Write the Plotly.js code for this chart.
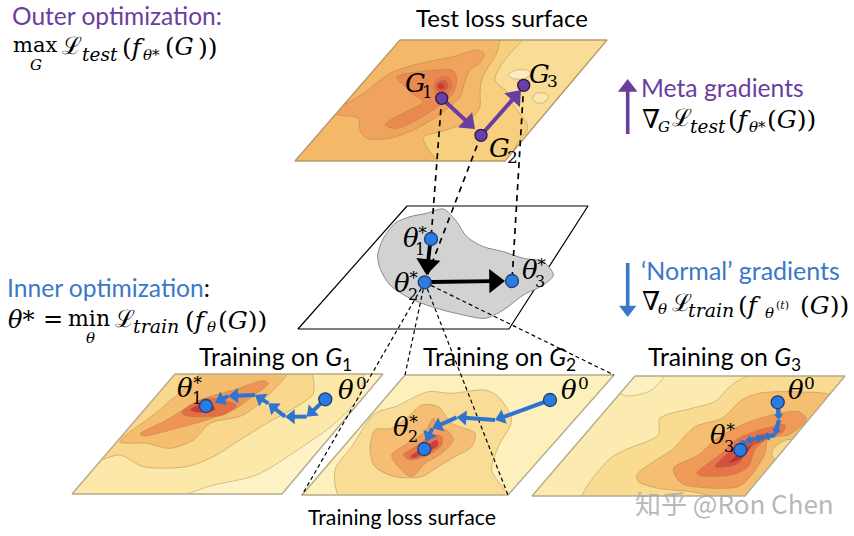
<!DOCTYPE html>
<html><head><meta charset="utf-8">
<script src="https://cdn.plot.ly/plotly-3.0.1.min.js"></script>
<style>html,body{margin:0;padding:0;background:#fff}#c{width:854px;height:536px}</style>
</head><body><div id="c"></div>
<script>
// ---- surface corners (tl, tr, br, bl), chart units
const topFrame   = [[400,40],[607,40],[505,161],[295,161]];
const midFrame   = [[407,206],[588,206],[509,329],[298,329]];
const leftFrame  = [[175,374],[383,374],[282,494],[72,494]];
const centFrame  = [[405,375],[614,375],[508,495],[302,495]];
const rightFrame = [[635,376],[845,376],[745,496],[532,496]];

// ---- contour outlines, read in 3x crop units per surface
const topA = [[745,20],[700,60],[660,110],[645,150],[680,185],[700,225],[740,280],[742,300],[715,335],[680,405],[1000,18]];
const topC = [[340,20],[655,20],[650,70],[625,110],[605,150],[600,190],[600,230],[570,270],[500,300],[430,322],[440,350],[475,410],[20,410]];
const topD = [[160,250],[250,190],[330,130],[420,100],[520,80],[590,60],[612,70],[600,100],[570,120],[550,170],[540,200],[470,260],[400,300],[330,325],[260,325],[240,300],[235,265]];
const topE = [[315,285],[340,265],[400,235],[430,215],[395,190],[370,165],[350,140],[420,125],[520,122],[530,150],[520,190],[480,225],[420,265],[350,295]];
const topF = [[460,170],[470,148],[490,138],[510,145],[515,170],[500,198],[475,200]];
const topG = [[468,168],[480,152],[497,152],[505,168],[492,185],[475,185]];
const topH = [[472,168],[482,160],[492,162],[492,175],[480,178]];
const topPale1 = [[685,133],[710,120],[745,122],[752,132],[735,145],[700,146]];
const topPale2 = [[758,205],[770,190],[795,190],[806,203],[790,218],[768,218]];

const mapBlob = [[460,42],[500,80],[530,125],[580,155],[640,170],[700,190],[760,200],[790,240],[760,270],[700,300],[640,345],[585,370],[520,360],[440,340],[360,310],[300,270],[270,220],[263,180],[280,130],[315,85],[360,65],[410,55]];

const leftL1 = [[215,25],[785,25],[790,60],[775,115],[705,190],[600,265],[470,345],[330,378],[200,420],[-110,420]];
const leftL2 = [[215,25],[625,25],[640,100],[590,140],[500,190],[420,240],[340,290],[260,320],[130,320],[60,285],[-10,300]];
const leftL3 = [[60,245],[160,165],[260,80],[320,30],[565,30],[515,95],[430,165],[330,190],[280,240],[210,265],[140,250]];
const leftL4 = [[120,222],[200,180],[300,120],[400,90],[490,62],[505,70],[470,100],[400,150],[320,180],[230,205],[130,228]];
const leftL5 = [[245,158],[270,135],[320,115],[370,120],[410,135],[370,165],[300,170],[260,168]];
const leftL6 = [[270,150],[300,132],[340,135],[345,150],[300,158]];

const centL1 = [[140,420],[120,330],[170,260],[240,160],[300,140],[400,95],[470,100],[570,90],[610,110],[650,180],[610,260],[590,330],[640,420]];
const centL2 = [[225,270],[240,210],[290,205],[340,170],[380,135],[430,140],[470,190],[540,220],[530,260],[480,290],[430,320],[380,350],[300,350],[240,320]];
const centL3 = [[290,285],[330,255],[390,215],[415,175],[430,200],[460,215],[475,240],[440,280],[390,310],[350,350],[310,320]];
const centL4 = [[325,285],[370,255],[410,225],[440,230],[440,255],[400,285],[345,300]];
const centL5 = [[345,290],[390,260],[425,240],[430,255],[390,280],[355,295]];

const rightPale = [[300,107],[380,90],[425,30],[300,30],[260,70]];
const rightL1 = [[170,425],[250,300],[300,270],[400,225],[405,175],[500,145],[570,125],[620,75],[700,35],[990,35],[990,60],[680,425]];
const rightL2 = [[335,345],[370,315],[440,270],[510,200],[590,175],[650,120],[700,100],[800,95],[930,110],[880,180],[800,300],[690,425],[500,395],[400,385],[340,365]];
const rightNotch = [[740,285],[750,260],[792,238],[815,255],[770,310]];
const rightL3 = [[445,325],[520,285],[570,240],[650,195],[720,170],[820,155],[845,178],[790,225],[730,235],[720,280],[680,345],[640,380],[470,370]];
const rightL4 = [[515,340],[590,280],[640,235],[720,205],[780,195],[775,215],[720,240],[690,270],[670,320],[620,345],[530,348]];
const rightL5 = [[570,320],[620,270],[680,235],[725,220],[725,235],[680,260],[640,310],[600,322]];
const rightL6 = [[610,310],[660,265],[680,255],[650,295]];

// ---- points on the surfaces
const gPoints = [[441.7,98.3],[481,135.3],[523.7,85.3]];
const thetaStars = [[431,239],[424.7,282.3],[512,281]];
const thetaLeft  = [[206,406],[325.3,399.3]];
const thetaCent  = [[424.3,449],[550,400]];
const thetaRight = [[740.3,450],[777.7,402.3]];

// ---- descent paths, 3x crop units
const pathLeft  = [[676,118],[620,170],[555,170],[505,130],[465,105],[385,108],[345,128]];
const pathCent  = [[765,120],[600,180],[485,172],[412,205],[393,245]];
const pathRight = [[758,127],[762,180],[750,225],[715,232],[685,238],[660,243],[648,262]];

// ---- projection lines
const linkG1 = [[441.7,98.3],[431,239]];
const linkG2 = [[481,135.3],[424.7,282.3]];
const linkG3 = [[523.7,85.3],[512,281]];
const fanApex = [424.7,282.3];
const fanEnds = [[302,495],[405,375],[508,495],[614,375]];

// ---- text
const titleTop = 'Test loss surface';
const titleBottom = 'Training loss surface';
const trainingLabels = ['Training on <i>G</i><sub>1</sub>','Training on <i>G</i><sub>2</sub>','Training on <i>G</i><sub>3</sub>'];
const outerHead = 'Outer optimization:';
const metaHead = 'Meta gradients';
const normalHead = '‘Normal’ gradients';
const innerHead = 'Inner optimization<span style="color:#000">:</span>';
const watermark = '知乎 @Ron Chen';

const PURPLE='#6a3d9f', BLUE='#3a78c8', PATH='#2f74cf', DOT='#2b7be0', DOTLINE='#1f3f78';
const EDGE='rgba(165,125,70,0.55)';
const SANS='Lato, sans-serif', MATH='"DejaVu Serif", serif';

const traces=[], anns=[];
const o = {top:[280,30], map:[290,195], left:[100,360], cent:[295,360], right:[525,360]};
const conv=(p,org)=>p.map(q=>[q[0]/3+org[0], q[1]/3+org[1]]);
function poly(p,fill,opts={}){
  const c=p.concat([p[0]]);
  traces.push({type:'scatter',mode:opts.noline?'none':'lines',x:c.map(q=>q[0]),y:c.map(q=>q[1]),fill:'toself',fillcolor:fill,
    line:{color:opts.edge||EDGE,width:opts.w===undefined?0.8:opts.w,shape:opts.linear?'linear':'spline',smoothing:0.8},hoverinfo:'skip',showlegend:false});
}
function mask(f,L,R,V){
  const s=(f[0][0]-f[3][0])/(f[3][1]-f[0][1]);
  const [a,b,c,d]=f;
  const oa=[a[0]+V*s-L,a[1]-V],ob=[b[0]+V*s+R,b[1]-V],oc=[c[0]-V*s+R,c[1]+V],od=[d[0]-V*s-L,d[1]+V];
  const ring=[a,b,c,d,a,oa,od,oc,ob,oa];
  traces.push({type:'scatter',mode:'lines',x:ring.map(q=>q[0]),y:ring.map(q=>q[1]),line:{width:0},fill:'toself',fillcolor:'#fff',hoverinfo:'skip',showlegend:false});
}
function frame(f,col,w){
  const c=f.concat([f[0]]);
  traces.push({type:'scatter',mode:'lines',x:c.map(q=>q[0]),y:c.map(q=>q[1]),line:{color:col,width:w},hoverinfo:'skip',showlegend:false});
}
function seg(a,b,w,dash,col){
  traces.push({type:'scatter',mode:'lines',x:[a[0],b[0]],y:[a[1],b[1]],line:{color:col||'#000',width:w,dash:dash},hoverinfo:'skip',showlegend:false});
}
function dots(p,col,line,size){
  traces.push({type:'scatter',mode:'markers',x:p.map(q=>q[0]),y:p.map(q=>q[1]),marker:{color:col,size:size,line:{color:line,width:1.3}},hoverinfo:'skip',showlegend:false});
}
function arrow(tail,tip,col,w,size){
  const dx=tip[0]-tail[0],dy=tip[1]-tail[1],len=Math.hypot(dx,dy);
  const back=Math.min(size*0.6,len);
  seg(tail,[tip[0]-dx/len*back,tip[1]-dy/len*back],w,'solid',col);
  traces.push({type:'scatter',mode:'markers',x:[tail[0],tip[0]],y:[tail[1],tip[1]],
    marker:{symbol:'triangle-up',color:col,opacity:1,size:[0,size],sizemode:'diameter',angleref:'previous',standoff:size/2,line:{width:0}},hoverinfo:'skip',showlegend:false});
}
function txt(x,y,t,size,opts={}){
  anns.push({x:x,y:y,xref:'x',yref:'y',text:t,showarrow:false,xanchor:opts.a||'center',yanchor:'middle',
    font:{family:opts.f||MATH,size:size,color:opts.c||'#000'}});
}

// ---- top surface
poly(topFrame,'#f8cf7f',{linear:true,w:0});
poly(conv(topA,o.top),'#f9dd96');
poly(conv(topC,o.top),'#f4b869');
poly(conv(topD,o.top),'#f0a35c');
poly(conv(topE,o.top),'#ea8a50');
poly(conv(topF,o.top),'#e8764a');
poly(conv(topG,o.top),'#dd5640');
poly(conv(topH,o.top),'#c93a37');
poly(conv(topPale1,o.top),'#fcecbf');
poly(conv(topPale2,o.top),'#fbe7ae');
mask(topFrame,40,40,26); frame(topFrame,'#b59a6a',1.4);

// ---- middle map
frame(midFrame,'#000',1.2);
poly(conv(mapBlob,o.map),'#d2d2d2',{edge:'#8a8a8a',w:1});

// ---- training surfaces
poly(leftFrame,'#fef3c6',{linear:true,w:0});
poly(conv(leftL1,o.left),'#fce8a9');
poly(conv(leftL2,o.left),'#f9d78c');
poly(conv(leftL3,o.left),'#f5bd6e');
poly(conv(leftL4,o.left),'#ee9455');
poly(conv(leftL5,o.left),'#e56f45');
poly(conv(leftL6,o.left),'#c93a3a');
mask(leftFrame,40,18,20); frame(leftFrame,'#b5ab8c',1.4);

poly(centFrame,'#fdf0bd',{linear:true,w:0});
poly(conv(centL1,o.cent),'#f9dc96');
poly(conv(centL2,o.cent),'#f5be74');
poly(conv(centL3,o.cent),'#f09e5c');
poly(conv(centL4,o.cent),'#e8754a');
poly(conv(centL5,o.cent),'#cf3f3a');
mask(centFrame,18,20,20); frame(centFrame,'#b5ab8c',1.4);

poly(rightFrame,'#fcebb0',{linear:true,w:0});
poly(conv(rightPale,o.right),'#fdf1c3');
poly(conv(rightL1,o.right),'#f9db92');
poly(conv(rightL2,o.right),'#f5bf72');
poly(conv(rightNotch,o.right),'#f9db92');
poly(conv(rightL3,o.right),'#f09a58');
poly(conv(rightL4,o.right),'#e8754a');
poly(conv(rightL5,o.right),'#d65040');
poly(conv(rightL6,o.right),'#b8322f');
mask(rightFrame,20,45,20); frame(rightFrame,'#b5ab8c',1.4);

// ---- projection lines
seg(linkG1[0],linkG1[1],1.7,'6px,5px');
seg(linkG2[0],linkG2[1],1.7,'6px,5px');
seg(linkG3[0],linkG3[1],1.7,'6px,5px');
fanEnds.forEach(e=>seg(fanApex,e,1.2,'4px,3px'));

// ---- arrows
arrow(gPoints[0],[475,129],PURPLE,4,18);
arrow(gPoints[1],[521,90],PURPLE,4,18);
arrow([430,245],[426.5,275],'#000',3.8,21);
arrow([431,282],[505,281],'#000',3.8,21);
[[pathLeft,o.left,13,4],[pathCent,o.cent,13,4],[pathRight,o.right,8,4.5]].forEach(([p,org,s,w])=>{
  const q=conv(p,org);
  for(let i=0;i<q.length-1;i++) arrow(q[i],q[i+1],PATH,w,s);
});
arrow([627.7,134],[627.7,79],PURPLE,3.6,17);
arrow([627.7,263],[627.7,317],BLUE,3.6,15);

// ---- dots
dots(gPoints,'#6b3fa5','#2d1b4e',12);
dots(thetaStars,DOT,DOTLINE,13);
dots(thetaLeft,DOT,DOTLINE,13);
dots(thetaCent,DOT,DOTLINE,13);
dots(thetaRight,DOT,DOTLINE,13);

// ---- headings
txt(502,17,titleTop,24,{f:SANS});
txt(402,517,titleBottom,21.3,{f:SANS});
txt(275,358,trainingLabels[0],24.8,{f:SANS});
txt(499,358,trainingLabels[1],24.8,{f:SANS});
txt(724,358,trainingLabels[2],24.8,{f:SANS});
txt(10,15,outerHead,24.5,{f:SANS,c:PURPLE,a:'left'});
txt(639,87,metaHead,24.7,{f:SANS,c:PURPLE,a:'left'});
txt(639,270,normalHead,25,{f:SANS,c:BLUE,a:'left'});
txt(5,287,innerHead,24.6,{f:SANS,c:BLUE,a:'left'});

// ---- formulas, placed piece by piece
const L=(x,y,t,s)=>txt(x-2,y,t,s,{a:'left'});
// outer
L(13,45,'max',21); txt(36,65,'<i>G</i>',15);
L(62,46,'ℒ',24); L(82,54,'<i>test</i>',18.5);
L(122,47,'(<i>f</i>',25); L(143,55,'<i>θ</i>*',15);
L(165,47,'(<i>G</i>',24); L(198,47,'))',25);
// meta
L(642,119,'∇',26); L(658,127,'<i>G</i>',15); L(672,118,'ℒ',24); L(690,126,'<i>test</i>',18.5);
L(728,119,'(<i>f</i>',25); L(749,127,'<i>θ</i>*',15); L(767,119,'(<i>G</i>))',25);
// normal
L(642,301,'∇',26); L(658,309,'<i>θ</i>',15); L(672,303,'ℒ',24); L(688,310,'<i>train</i>',19);
L(738,305,'(<i>f</i>',25); L(765,313,'<i>θ</i>',15); L(776,305,'(<i>t</i>)',11); L(800,305,'(<i>G</i>))',25);
// inner
L(8,320,'<i>θ</i>*',24); L(43,319,'=',24); L(68,318,'min',22); txt(90,338,'<i>θ</i>',15);
L(115,319,'ℒ',24); L(133,326,'<i>train</i>',19); L(185,320,'(<i>f</i>',25);
L(207,327,'<i>θ</i>',15); L(218,320,'(<i>G</i>))',25);

// ---- surface labels
[[415,83,427,92,'1'],[539,74,552,81,'3'],[499,148,512,157,'2']].forEach(r=>{
  txt(r[0],r[1],'<i>G</i>',26); txt(r[2],r[3],r[4],17);
});
[[410.7,238,420,249,422.7,231,'1'],[401.7,283,412.7,294,414,276,'2'],[530,270,540,281,542.3,263,'3'],
 [185,388,196.7,398,198,381,'1'],[401,427,413,436,414,420,'2'],[717.7,435,729,446,731,428,'3']].forEach(r=>{
  txt(r[0],r[1],'<i>θ</i>',26);
  txt(r[2],r[3],r[6],16);
  txt(r[4],r[5]-2,'∗',17);
});
[[345.7,390,361,383],[569,390,583,383],[796,390,809,383]].forEach(r=>{
  txt(r[0],r[1],'<i>θ</i>',26);
  txt(r[2],r[3],'0',17);
});

txt(734,502,watermark,26,{f:'"Noto Sans CJK SC", "Noto Sans", sans-serif',c:'rgba(170,170,170,0.85)'});

Plotly.newPlot('c',traces,{
  width:854,height:536,margin:{l:0,r:0,t:0,b:0},paper_bgcolor:'#fff',plot_bgcolor:'#fff',showlegend:false,
  xaxis:{range:[0,854],visible:false,fixedrange:true},
  yaxis:{range:[536,0],visible:false,fixedrange:true},
  annotations:anns
},{staticPlot:true,displayModeBar:false});
</script></body></html>
